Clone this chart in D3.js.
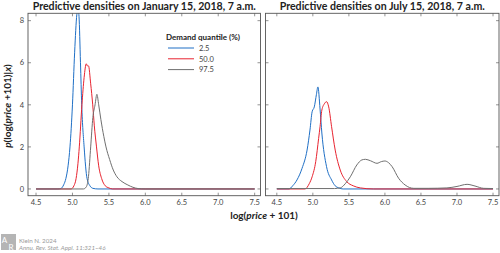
<!DOCTYPE html>
<html lang="en">
<head>
  <meta charset="UTF-8">
  <title>Predictive densities</title>
  <script src="https://d3js.org/d3.v7.min.js"></script>
  <style>
    * { margin: 0; padding: 0; box-sizing: border-box; }
    body { background: #fff; font-family: Lato, "Open Sans", sans-serif; }
    svg text { font-family: Lato, "Open Sans", sans-serif; }
  </style>
</head>
<body>
  <div id="chart"></div>
  <script>
    // values
    const xTicks = [4.5, 5.0, 5.5, 6.0, 6.5, 7.0, 7.5];
    const yTicks = [0, 2, 4, 6, 8];
    const quantiles = ["2.5", "50.0", "97.5"];
    const titles = ["Predictive densities on January 15, 2018, 7 a.m.",
                    "Predictive densities on July 15, 2018, 7 a.m."];

    // January 15
    const janLowX  = [4.5, 4.8, 4.84, 4.88, 4.91, 4.94, 4.966, 5.0, 5.03, 5.06, 5.075, 5.09, 5.11, 5.127, 5.16, 5.2, 5.24, 5.28, 5.35, 7.5];
    const janLowY  = [0, 0, 0.02, 0.2, 0.5, 1.1, 2.0, 4.0, 6.5, 8.3, 8.6, 8.2, 6.0, 4.0, 2.0, 0.5, 0.15, 0.03, 0, 0];
    const janMidX  = [4.5, 4.98, 5.02, 5.05, 5.075, 5.094, 5.13, 5.16, 5.19, 5.205, 5.22, 5.25, 5.278, 5.3, 5.33, 5.36, 5.4, 5.45, 5.5, 5.55, 7.5];
    const janMidY  = [0, 0, 0.15, 0.5, 1.2, 2.0, 4.0, 5.3, 5.95, 5.85, 5.85, 5.0, 4.0, 3.0, 2.0, 1.1, 0.5, 0.15, 0.05, 0, 0];
    const janHighX = [4.5, 5.15, 5.19, 5.22, 5.25, 5.28, 5.31, 5.335, 5.36, 5.39, 5.43, 5.46, 5.51, 5.56, 5.61, 5.68, 5.76, 5.83, 5.9, 6.0, 7.5];
    const janHighY = [0, 0, 0.1, 0.6, 2.0, 3.4, 4.0, 4.5, 4.0, 3.3, 2.5, 2.0, 1.4, 0.9, 0.58, 0.35, 0.19, 0.08, 0.02, 0, 0];

    // July 15
    const julLowX  = [4.5, 4.67, 4.72, 4.78, 4.85, 4.92, 4.96, 4.99, 5.02, 5.05, 5.07, 5.1, 5.125, 5.19, 5.26, 5.31, 5.36, 5.42, 7.5];
    const julLowY  = [0, 0, 0.15, 0.43, 0.98, 1.85, 2.8, 3.67, 3.9, 4.5, 4.85, 3.8, 2.66, 1.06, 0.43, 0.15, 0.05, 0, 0];
    const julMidX  = [4.5, 4.89, 4.95, 4.99, 5.04, 5.08, 5.1, 5.125, 5.16, 5.19, 5.22, 5.26, 5.31, 5.38, 5.47, 5.56, 5.66, 5.84, 7.5];
    const julMidY  = [0, 0, 0.25, 0.58, 1.3, 2.4, 2.96, 3.75, 4.05, 4.15, 3.9, 2.96, 1.85, 0.9, 0.35, 0.15, 0.05, 0, 0];
    const julHighX = [4.5, 5.3, 5.38, 5.45, 5.52, 5.61, 5.68, 5.73, 5.8, 5.89, 5.95, 6.0, 6.05, 6.1, 6.19, 6.28, 6.4, 6.6, 6.86, 7.0, 7.14, 7.25, 7.37, 7.5];
    const julHighY = [0.02, 0.02, 0.05, 0.25, 0.58, 1.14, 1.38, 1.41, 1.34, 1.22, 1.3, 1.33, 1.25, 1.06, 0.51, 0.19, 0.03, 0.03, 0.05, 0.12, 0.22, 0.14, 0.03, 0.02];

    const colors = ["#1f6fc5", "#e8232f", "#6f6f6f"];

    const panels = [
      { title: titles[0], series: [[janLowX, janLowY], [janMidX, janMidY], [janHighX, janHighY]],
        left: 28, right: 260.5, domain: [4.39, 7.58], labels: true, legend: true },
      { title: titles[1], series: [[julLowX, julLowY], [julMidX, julMidY], [julHighX, julHighY]],
        left: 265.5, right: 499, domain: [4.343, 7.583], labels: false, legend: false }
    ];

    const plotTop = 13.3, plotBottom = 195.7;
    const y = d3.scaleLinear().domain([-0.32, 8.35]).range([plotBottom, plotTop]);

    const svg = d3.select("#chart").append("svg")
      .attr("width", 500).attr("height", 253);

    panels.forEach((p, i) => {
      const x = d3.scaleLinear().domain(p.domain).range([p.left, p.right]);
      const g = svg.append("g");

      g.append("clipPath").attr("id", "clip" + i)
        .append("rect")
        .attr("x", p.left).attr("y", plotTop)
        .attr("width", p.right - p.left).attr("height", plotBottom - plotTop);

      // title
      g.append("text")
        .attr("x", (p.left + p.right) / 2).attr("y", 9.5)
        .attr("text-anchor", "middle")
        .style("font-size", "10.6px").style("font-weight", "bold")
        .style("fill", "#222")
        .text(p.title);

      // ticks: inward on all four sides
      const tk = 3;
      xTicks.forEach(t => {
        g.append("line").attr("x1", x(t)).attr("x2", x(t))
          .attr("y1", plotBottom).attr("y2", plotBottom - tk)
          .attr("stroke", "#777").attr("stroke-width", 0.8);
        g.append("line").attr("x1", x(t)).attr("x2", x(t))
          .attr("y1", plotTop).attr("y2", plotTop + tk)
          .attr("stroke", "#777").attr("stroke-width", 0.8);
        g.append("text")
          .attr("x", x(t)).attr("y", 205)
          .attr("text-anchor", "middle")
          .style("font-size", "7.5px").style("fill", "#444")
          .text(d3.format(".1f")(t));
      });
      yTicks.forEach(t => {
        g.append("line").attr("x1", p.left).attr("x2", p.left + tk)
          .attr("y1", y(t)).attr("y2", y(t))
          .attr("stroke", "#777").attr("stroke-width", 0.8);
        g.append("line").attr("x1", p.right).attr("x2", p.right - tk)
          .attr("y1", y(t)).attr("y2", y(t))
          .attr("stroke", "#777").attr("stroke-width", 0.8);
        if (p.labels) {
          g.append("text")
            .attr("x", p.left - 4).attr("y", y(t) + 2.7)
            .attr("text-anchor", "end")
            .style("font-size", "7.5px").style("fill", "#444")
            .text(t);
        }
      });

      // density lines
      const line = d3.line().x(d => x(d[0])).y(d => y(d[1])).curve(d3.curveMonotoneX);
      p.series.forEach((s, k) => {
        const pts = s[0].map((v, j) => [v, s[1][j]]);
        g.append("path")
          .datum(pts)
          .attr("clip-path", `url(#clip${i})`)
          .attr("d", line)
          .attr("fill", "none")
          .attr("stroke", colors[k])
          .attr("stroke-width", 1);
      });

      // box
      g.append("rect")
        .attr("x", p.left).attr("y", plotTop)
        .attr("width", p.right - p.left).attr("height", plotBottom - plotTop)
        .attr("fill", "none").attr("stroke", "#555").attr("stroke-width", 0.9);

      if (p.legend) {
        const lg = g.append("g");
        lg.append("text").attr("x", 166).attr("y", 39.5)
          .style("font-size", "8px").style("font-weight", "bold").style("fill", "#222")
          .text("Demand quantile (%)");
        quantiles.forEach((q, k) => {
          const ly = 48 + k * 10.8;
          lg.append("line").attr("x1", 168).attr("x2", 194)
            .attr("y1", ly).attr("y2", ly)
            .attr("stroke", colors[k]).attr("stroke-width", 1);
          lg.append("text").attr("x", 199).attr("y", ly + 2.8)
            .style("font-size", "7.5px").style("fill", "#444")
            .text(q);
        });
      }
    });

    // axis labels
    const xl = svg.append("text")
      .attr("x", 264).attr("y", 218.5)
      .attr("text-anchor", "middle")
      .style("font-size", "10px").style("font-weight", "bold").style("fill", "#222");
    xl.append("tspan").text("log(");
    xl.append("tspan").style("font-style", "italic").text("price");
    xl.append("tspan").text(" + 101)");

    const yl = svg.append("text")
      .attr("transform", "translate(11,106) rotate(-90)")
      .attr("text-anchor", "middle")
      .style("font-size", "10px").style("font-weight", "bold").style("fill", "#222");
    yl.append("tspan").style("font-style", "italic").text("p");
    yl.append("tspan").text("(log(");
    yl.append("tspan").style("font-style", "italic").text("price");
    yl.append("tspan").text(" +101)|");
    yl.append("tspan").style("font-style", "italic").text("x");
    yl.append("tspan").text(")");

    // footer
    const logo = svg.append("g");
    logo.append("rect").attr("x", 1).attr("y", 234).attr("width", 15).attr("height", 16)
      .attr("fill", "#b5b5b5");
    logo.append("text").attr("x", 4.5).attr("y", 242.5).style("font-size", "8px")
      .style("fill", "#fff").attr("text-anchor", "middle").text("A");
    logo.append("text").attr("x", 11).attr("y", 249.5).style("font-size", "8px")
      .style("fill", "#fff").attr("text-anchor", "middle").text("R");
    svg.append("text").attr("x", 19).attr("y", 242.5)
      .style("font-size", "6.2px").style("fill", "#999")
      .text("Klein N. 2024");
    svg.append("text").attr("x", 19).attr("y", 249.5)
      .style("font-size", "6.2px").style("fill", "#999").style("font-style", "italic")
      .text("Annu. Rev. Stat. Appl. 11:321–46");
  </script>
</body>
</html>
